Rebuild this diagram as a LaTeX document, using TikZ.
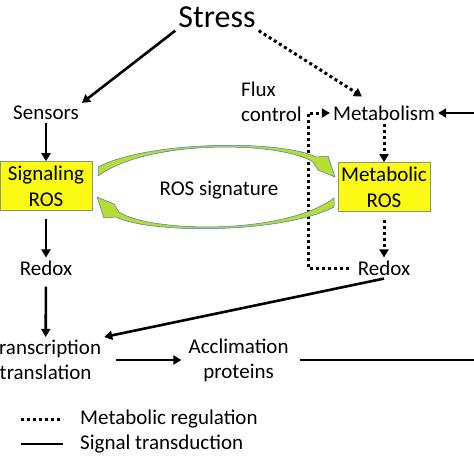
\documentclass[tikz,border=0pt]{standalone}
\usepackage{fontspec}
\setmainfont{Carlito}
\usepackage{tikz}
\usetikzlibrary{arrows.meta,positioning}

\definecolor{boxyellow}{RGB}{250,250,20}
\definecolor{boxline}{RGB}{140,150,110}
\definecolor{arcfill}{RGB}{185,220,50}
\definecolor{arcline}{RGB}{60,120,200}

\begin{document}
\begin{tikzpicture}[x=1pt,y=-1pt,node distance=70pt,on grid,
    every node/.style={font=\fontsize{21}{25}\selectfont,inner sep=3pt,align=center},
    rosbox/.style={draw=boxline,line width=0.6pt,fill=boxyellow,minimum width=92pt,minimum height=49pt,inner sep=1pt,font=\fontsize{21}{26}\selectfont},
    sig/.style={line width=2.6pt,-{Triangle[length=8pt,width=9pt]}},
    met/.style={line width=3pt,dash pattern=on 3pt off 3pt,-{Triangle[length=8pt,width=9pt]}},
    rosarc/.style={draw=arcline,line width=0.5pt,fill=arcfill,line join=round}]
  \useasboundingbox (0,0) rectangle (474,474);
  \clip (0,0) rectangle (474,474);

  \node[font=\fontsize{32}{36}\selectfont]	(stress)	at (217,17)		{Stress};
  \node						(sensors)	at (46,113)		{Sensors};
  \node[rosbox]				(sigros)	[below=73pt of sensors]	{Signaling\\ROS};
  \node						(redoxL)	[below=82pt of sigros]	{Redox};
  \node						(trans)		at (45.6,360)		{Transcription\\translation};
  \node						(accl)		[right=193pt of trans]	{Acclimation\\proteins};
  \node						(metab)		at (384,113)		{Metabolism};
  \node[rosbox]				(metros)	[below=74pt of metab]	{Metabolic\\ROS};
  \node						(redoxR)	[below=81pt of metros]	{Redox};
  \node[anchor=west,align=left]	(flux)		at (238,102)		{Flux\\control};
  \node						(rossig)	at (219,190)		{ROS signature};
  \node[anchor=west]			(legmet)	at (77,419)		{Metabolic regulation};
  \node[anchor=west]			(legsig)	at (77,444)		{Signal transduction};
  \coordinate				(fluxtop)	at (308,113);
  \coordinate				(farright)	at (520,113);

  \path[sig]
     (stress.south west)	edge	(sensors.north east)
     (sensors)		edge	(sigros)
     (sigros)		edge[shorten <=8pt]	(redoxL)
     (redoxL)		edge[shorten <=8pt]	(trans)
     (redoxR.south)	edge	(trans.north east)
     (trans.east |- accl)	edge[shorten <=12pt,shorten >=4pt]	(accl)
  ;
  \draw[sig,shorten <=8pt] (accl.east) -| (farright) -- (metab.east);
  \path[met]
     (stress.south east)	edge	([xshift=-22pt,yshift=6pt]metab.north)
     (metab)		edge	(metros)
     (metros)		edge[shorten <=8pt]	(redoxR)
  ;
  \draw[met,shorten <=6pt] (redoxR.west) -| (fluxtop) -- (metab.west);

  \filldraw[rosarc] (98,167) .. controls (150,140) and (283,140) .. (316,157)
     -- (328,156) -- (335,177) -- (318,170) -- (313,162)
     .. controls (283,142) and (150,138) .. (98,176) -- cycle;
  \filldraw[rosarc] (334,207) .. controls (282,234) and (149,234) .. (116,217)
     -- (104,218) -- (97,197) -- (114,204) -- (119,212)
     .. controls (149,232) and (282,236) .. (334,198) -- cycle;

  \draw[line width=3pt,dash pattern=on 3pt off 3pt] ([xshift=-56pt]legmet.west) -- ([xshift=-14pt]legmet.west);
  \draw[line width=2.6pt] ([xshift=-56pt]legsig.west) -- ([xshift=-14pt]legsig.west);
\end{tikzpicture}
\end{document}
